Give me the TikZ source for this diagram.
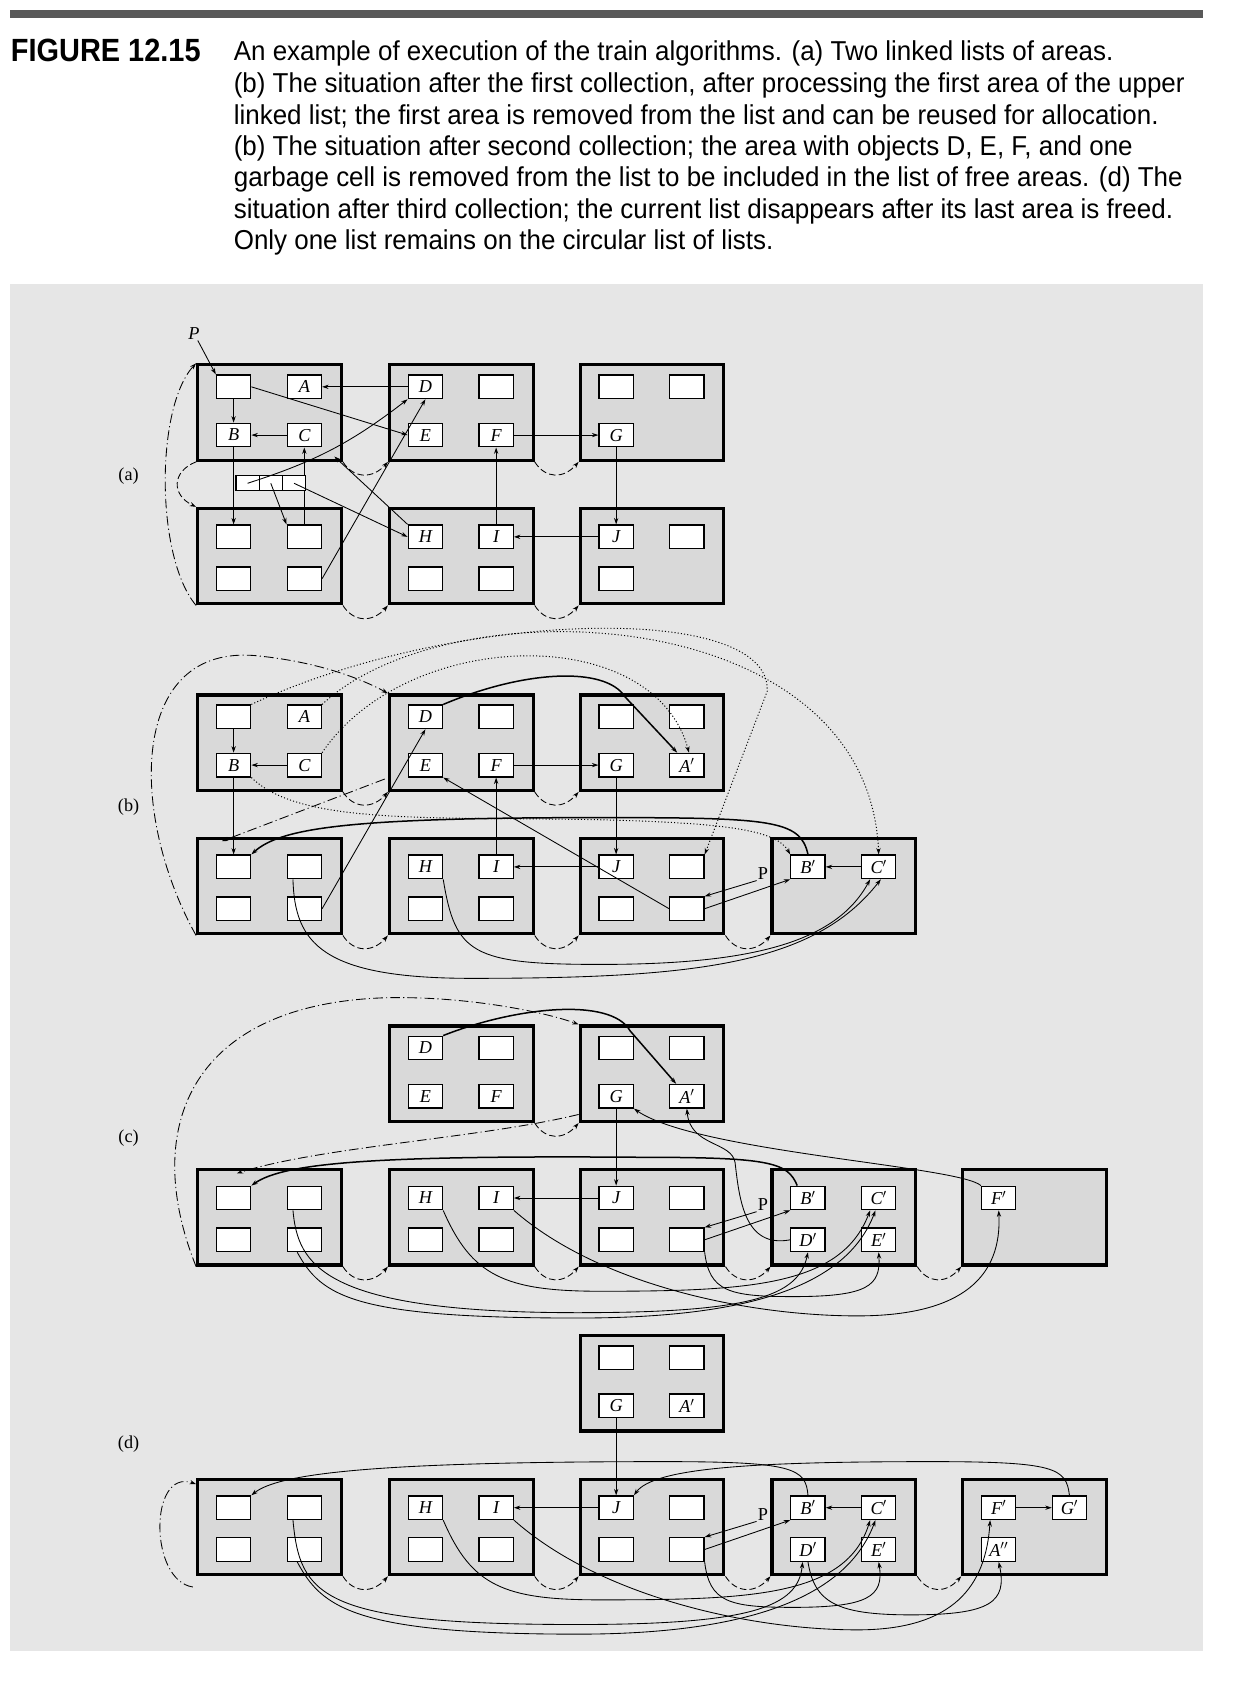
\documentclass[tikz,border=0pt]{standalone}
\usepackage{fontspec}
\setmainfont{Liberation Serif}
\newfontfamily\capfont[FakeStretch=0.95]{Liberation Sans}
\newfontfamily\capbold[FakeStretch=0.9]{Liberation Sans Bold}
\usetikzlibrary{arrows.meta,calc}
\definecolor{bgc}{HTML}{E6E6E6}
\definecolor{areafill}{HTML}{D9D9D9}
\definecolor{barc}{HTML}{595959}
\tikzset{
 areabox/.style={draw=black,line width=3pt,fill=areafill,minimum width=134pt,minimum height=89pt,inner sep=0pt,anchor=north west},
 cellbox/.style={draw=black,line width=1.2pt,fill=white,minimum width=32pt,minimum height=22pt,inner sep=0pt,font=\fontsize{17}{17}\selectfont\itshape},
 rsbox/.style={draw=black,line width=1.2pt,fill=white,minimum width=21.7pt,minimum height=14pt,inner sep=0pt},
 ar/.style={line width=0.8pt,-{Stealth[length=6pt,width=4pt]}},
 thk/.style={line width=1.4pt,-{Stealth[length=6pt,width=4pt]}},
 lk/.style={line width=0.8pt,dash pattern=on 6pt off 3pt,-{Stealth[length=6pt,width=4pt]}},
 ddot/.style={line width=0.8pt,dash pattern=on 9pt off 3pt on 1pt off 3pt,-{Stealth[length=6pt,width=4pt]}},
 dotl/.style={line width=0.9pt,dash pattern=on 1pt off 2pt,-{Stealth[length=6pt,width=4pt]}},
 plab/.style={font=\fontsize{17}{17}\selectfont,inner sep=1pt},
 caption/.style={font=\capfont\fontsize{25.5}{25.5}\selectfont,anchor=base west,inner sep=0pt},
}
\newcommand\area[3]{\node[areabox] (#1) at (#2,#3) {};}
\newcommand\cl[4]{\node[cellbox] (#1) at (#2,#3) {#4};}
\newcommand\arcl[2]{\draw[lk] (#1.south east) .. controls +(10,16) and +(-14,16) .. (#2.south west);}
\begin{document}
\begin{tikzpicture}[x=1pt,y=-1pt]
\useasboundingbox (0,0) rectangle (1160,1579);
\fill[white] (0,0) rectangle (1160,1579);
\fill[barc] (9,9) rectangle (1123,17);
\node[anchor=base west,inner sep=0pt,font=\capbold\fontsize{30}{30}\selectfont] (fig) at (10,57) {FIGURE 12.15};
\node[caption] (c1) at (218,56) {An example of execution of the train algorithms. (a) Two linked lists of areas.};
\node[caption] (c2) at (218,86) {(b) The situation after the first collection, after processing the first area of the upper};
\node[caption] (c3) at (218,116) {linked list; the first area is removed from the list and can be reused for allocation.};
\node[caption] (c4) at (218,145) {(b) The situation after second collection; the area with objects D, E, F, and one};
\node[caption] (c5) at (218,174) {garbage cell is removed from the list to be included in the list of free areas. (d) The};
\node[caption] (c6) at (218,204) {situation after third collection; the current list disappears after its last area is freed.};
\node[caption] (c7) at (218,233) {Only one list remains on the circular list of lists.};
\fill[bgc] (9,265) rectangle (1123,1541);
\node[plab] (la) at (120,444) {(a)};
\node[plab] (lb) at (120,753) {(b)};
\node[plab] (lc) at (120,1062) {(c)};
\node[plab] (ld) at (120,1348) {(d)};
% ================= (a)
\area{au1}{183}{339}\area{au2}{362}{339}\area{au3}{540}{339}
\area{al1}{183}{473}\area{al2}{362}{473}\area{al3}{540}{473}
\cl{a1}{218}{361}{}\cl{aA}{284}{361}{A}\cl{aB}{218}{406}{B}\cl{aC}{284}{406}{C}
\cl{aD}{397}{361}{D}\cl{a0}{463}{361}{}\cl{aE}{397}{406}{E}\cl{aF}{463}{406}{F}
\cl{a9}{575}{361}{}\cl{a8}{641}{361}{}\cl{aG}{575}{406}{G}
\cl{a2}{218}{501}{}\cl{a3}{284}{501}{}\cl{a5}{218}{540}{}\cl{a4}{284}{540}{}
\cl{aH}{397}{501}{H}\cl{aI}{463}{501}{I}\cl{a6}{397}{540}{}\cl{a7}{463}{540}{}
\cl{aJ}{575}{501}{J}\cl{a10}{641}{501}{}\cl{a11}{575}{540}{}
\draw[ar] (aB) -- (a2);
\draw[ar] (a3) -- (aC);
\node[rsbox] (rs1) at (231,451) {};
\node[rsbox] (rs2) at (252.7,451) {};
\node[rsbox] (rs3) at (274.4,451) {};
\node[plab,font=\fontsize{17}{17}\selectfont\itshape] (aP) at (181,311) {P};
\draw[ar] (aP) -- (a1.north west);
\draw[ar] (a1) -- (aB);
\draw[ar] (a1.east) -- (aE.west);
\draw[ar] (aC) -- (aB);
\draw[ar] (aD) -- (aA);
\draw[ar] (aF) -- (aG);
\draw[ar] (rs1.center) to[bend right=10] (aD.south west);
\draw[ar] (rs2.center) -- (a3.north west);
\draw[ar] (rs3.center) -- (aH.west);
\draw[ar] (a4.east) -- (aD.south);
\draw[ar] (aH.north west) -- ($(au1.south east)+(-8,-5)$);
\draw[ar] (aI) -- (aF);
\draw[ar] (aJ) -- (aI);
\draw[ar] (aG) -- (aJ);
\arcl{au1}{au2}\arcl{au2}{au3}\arcl{al1}{al2}\arcl{al2}{al3}
\draw[lk] (au1.south west) .. controls (160,440) and (160,462) .. (al1.north west);
\draw[ddot] (al1.south west) .. controls (145,520) and (145,380) .. (au1.north west);
% ================= (b)
\area{bu1}{183}{647}\area{bu2}{362}{647}\area{bu3}{540}{647}
\area{bl1}{183}{781}\area{bl2}{362}{781}\area{bl3}{540}{781}\area{bl4}{719}{781}
\cl{b1}{218}{669}{}\cl{bA}{284}{669}{A}\cl{bB}{218}{714}{B}\cl{bC}{284}{714}{C}
\cl{bD}{397}{669}{D}\cl{b2}{463}{669}{}\cl{bE}{397}{714}{E}\cl{bF}{463}{714}{F}
\cl{b3}{575}{669}{}\cl{b4}{641}{669}{}\cl{bG}{575}{714}{G}\cl{bAp}{641}{714}{A$'$}
\cl{b5}{218}{809}{}\cl{b6}{284}{809}{}\cl{b7}{218}{848}{}\cl{b8}{284}{848}{}
\cl{bH}{397}{809}{H}\cl{bI}{463}{809}{I}\cl{b9}{397}{848}{}\cl{b10}{463}{848}{}
\cl{bJ}{575}{809}{J}\cl{b11}{641}{809}{}\cl{b12}{575}{848}{}\cl{b13}{641}{848}{}
\cl{bBp}{754}{809}{B$'$}\cl{bCp}{820}{809}{C$'$}
\draw[ar] (b1)--(bB);
\draw[ar] (bC)--(bB);
\draw[ar] (bB)--(b5);
\draw[ar] (bF)--(bG);
\draw[ar] (bG)--(bJ);
\draw[ar] (bI)--(bF);
\draw[ar] (bJ)--(bI);
\draw[ar] (bCp)--(bBp);
\draw[ar] (b8.east) -- (bD.south);
\draw[thk] (bD.north east) .. controls (490,625) and (565,622) .. (583,650) -- ($(bAp.north)+(-9,0)$);
\draw[ar] (b13.west) -- (bE.south east);
\node[plab] (bP) at (712,815) {P};
\draw[ar] (bP.south west) -- (b13.north east);
\draw[ar] (b13.east) -- (bBp.south west);
\draw[thk] (bBp.north) .. controls (747,765) and (720,763) .. (560,763) .. controls (330,763) and (262,772) .. (b5.north east);
\draw[ar] (bH.south east) .. controls (425,890) and (440,900) .. (560,900) .. controls (700,900) and (780,880) .. ($(bCp.south)+(-8,0)$);
\draw[ar] ($(b6.south west)+(6,0)$) .. controls (275,880) and (300,913) .. (440,913) .. controls (650,913) and (760,900) .. ($(bCp.south)+(2,0)$);
\draw[dotl] (b1.north east) .. controls (420,570) and (720,560) .. (716,645) -- (b11.north east);
\draw[dotl] (bA.north east) .. controls (420,545) and (810,560) .. (bCp.north);
\draw[dotl] (bC.north east) .. controls (380,585) and (610,580) .. ($(bAp.north)+(2,0)$);
\draw[dotl] (bB.south east) .. controls (280,770) and (400,762) .. (560,765) .. controls (680,768) and (725,775) .. (bBp.north west);
\draw[ddot] (bl1.south west) .. controls (120,760) and (120,600) .. (240,612) .. controls (300,618) and (340,635) .. (bu2.north west);
\draw[ddot] ($(bu2.south west)+(-3,-12)$) -- ($(bl1.north west)+(24,4)$);
\arcl{bu1}{bu2}\arcl{bu2}{bu3}\arcl{bl1}{bl2}\arcl{bl2}{bl3}\arcl{bl3}{bl4}
% ================= (c)
\area{cu2}{362}{956}\area{cu3}{540}{956}
\area{cl1}{183}{1090}\area{cl2}{362}{1090}\area{cl3}{540}{1090}\area{cl4}{719}{1090}\area{cl5}{897}{1090}
\cl{cD}{397}{978}{D}\cl{c1}{463}{978}{}\cl{cE}{397}{1023}{E}\cl{cF}{463}{1023}{F}
\cl{c2}{575}{978}{}\cl{c3}{641}{978}{}\cl{cG}{575}{1023}{G}\cl{cAp}{641}{1023}{A$'$}
\cl{c4}{218}{1118}{}\cl{c5}{284}{1118}{}\cl{c6}{218}{1157}{}\cl{c7}{284}{1157}{}
\cl{cH}{397}{1118}{H}\cl{cI}{463}{1118}{I}\cl{c8}{397}{1157}{}\cl{c9}{463}{1157}{}
\cl{cJ}{575}{1118}{J}\cl{c10}{641}{1118}{}\cl{c11}{575}{1157}{}\cl{c12}{641}{1157}{}
\cl{cBp}{754}{1118}{B$'$}\cl{cCp}{820}{1118}{C$'$}\cl{cDp}{754}{1157}{D$'$}\cl{cEp}{820}{1157}{E$'$}
\cl{cFp}{932}{1118}{F$'$}
\draw[thk] (cD.north east) .. controls (480,940) and (570,930) .. (588,962) -- ($(cAp.north)+(-10,0)$);
\draw[ar] (cG)--(cJ);
\draw[ar] (cJ)--(cI);
\node[plab] (cP) at (712,1124) {P};
\draw[ar] (cP.south west) -- (c12.north east);
\draw[ar] (c12.east) -- (cBp.south west);
\draw[ddot] (cl1.south west) .. controls (130,1050) and (180,935) .. (364,931) .. controls (440,930) and (510,945) .. (cu3.north west);
\draw[ddot] ($(cu3.south west)+(0,-8)$) .. controls (450,1062) and (300,1070) .. ($(cl1.north west)+(38,5)$);
\draw[thk] ($(cBp.north)+(-10,0)$) .. controls (735,1085) and (720,1080) .. (600,1080) .. controls (350,1078) and (265,1085) .. (c4.north east);
\draw[ar] (cFp.north west) .. controls (895,1088) and (650,1075) .. (cG.south east);
\draw[ar] (cDp.west) .. controls (695,1165) and (690,1120) .. (686,1085) .. controls (683,1065) and (644,1070) .. (cAp.south);
\draw[ar] (cH.south east) .. controls (440,1190) and (470,1205) .. (560,1205) .. controls (700,1205) and (785,1200) .. ($(cCp.south)+(-8,0)$);
\draw[ar] (cI.south east) .. controls (560,1200) and (700,1228) .. (800,1228) .. controls (900,1228) and (935,1190) .. (cFp.south);
\draw[ar] (c12.south east) .. controls (662,1205) and (680,1210) .. (740,1210) .. controls (810,1210) and (822,1200) .. (cEp.south);
\draw[ar] ($(c5.south west)+(6,0)$) .. controls (278,1180) and (300,1225) .. (539,1225) .. controls (700,1225) and (745,1210) .. (cDp.south);
\draw[ar] ($(c7.south west)+(10,0)$) .. controls (300,1210) and (330,1230) .. (539,1230) .. controls (700,1230) and (790,1200) .. ($(cCp.south)+(-3,0)$);
\arcl{cu2}{cu3}\arcl{cl1}{cl2}\arcl{cl2}{cl3}\arcl{cl3}{cl4}\arcl{cl4}{cl5}
% ================= (d)
\area{du3}{540}{1245}
\area{dl1}{183}{1379}\area{dl2}{362}{1379}\area{dl3}{540}{1379}\area{dl4}{719}{1379}\area{dl5}{897}{1379}
\cl{d1}{575}{1267}{}\cl{d2}{641}{1267}{}\cl{dG}{575}{1312}{G}\cl{dAp}{641}{1312}{A$'$}
\cl{d3}{218}{1407}{}\cl{d4}{284}{1407}{}\cl{d5}{218}{1446}{}\cl{d6}{284}{1446}{}
\cl{dH}{397}{1407}{H}\cl{dI}{463}{1407}{I}\cl{d7}{397}{1446}{}\cl{d8}{463}{1446}{}
\cl{dJ}{575}{1407}{J}\cl{d9}{641}{1407}{}\cl{d10}{575}{1446}{}\cl{d11}{641}{1446}{}
\cl{dBp}{754}{1407}{B$'$}\cl{dCp}{820}{1407}{C$'$}\cl{dDp}{754}{1446}{D$'$}\cl{dEp}{820}{1446}{E$'$}
\cl{dFp}{932}{1407}{F$'$}\cl{dGp}{998}{1407}{G$'$}\cl{dApp}{932}{1446}{A$''$}
\draw[ar] (dG)--(dJ);
\draw[ar] (dJ)--(dI);
\draw[ar] (dCp)--(dBp);
\draw[ar] (dFp)--(dGp);
\node[plab] (dP) at (712,1413) {P};
\draw[ar] (dP.south west) -- (d11.north east);
\draw[ar] (d11.east) -- (dBp.south west);
\draw[ar] (dBp.north) .. controls (752,1370) and (740,1364) .. (620,1364) .. controls (350,1364) and (260,1375) .. (d3.north east);
\draw[ar] (dGp.north) .. controls (995,1370) and (985,1364) .. (870,1364) .. controls (700,1364) and (610,1370) .. (dJ.north east);
\draw[ar] (dH.south east) .. controls (440,1480) and (470,1493) .. (560,1493) .. controls (700,1493) and (790,1490) .. ($(dCp.south)+(-8,0)$);
\draw[ar] (dI.south east) .. controls (560,1490) and (700,1521) .. (800,1521) .. controls (890,1521) and (920,1480) .. ($(dFp.south)+(-8,0)$);
\draw[ar] (d11.south east) .. controls (662,1495) and (680,1500) .. (740,1500) .. controls (810,1500) and (825,1490) .. (dEp.south);
\draw[ar] (dDp.south) .. controls (760,1495) and (780,1507) .. (850,1507) .. controls (925,1507) and (940,1495) .. (dApp.south);
\draw[ar] ($(d4.south west)+(6,0)$) .. controls (280,1490) and (300,1516) .. (539,1516) .. controls (700,1516) and (745,1500) .. ($(dDp.south)+(-5,0)$);
\draw[ar] ($(d6.south west)+(10,0)$) .. controls (300,1500) and (330,1525) .. (539,1525) .. controls (700,1525) and (790,1490) .. ($(dCp.south)+(-3,0)$);
\draw[ddot] ($(dl1.south west)+(-3,10)$) .. controls (139,1475) and (139,1370) .. ($(dl1.north west)+(0,6)$);
\arcl{dl1}{dl2}\arcl{dl2}{dl3}\arcl{dl3}{dl4}\arcl{dl4}{dl5}
\end{tikzpicture}
\end{document}
